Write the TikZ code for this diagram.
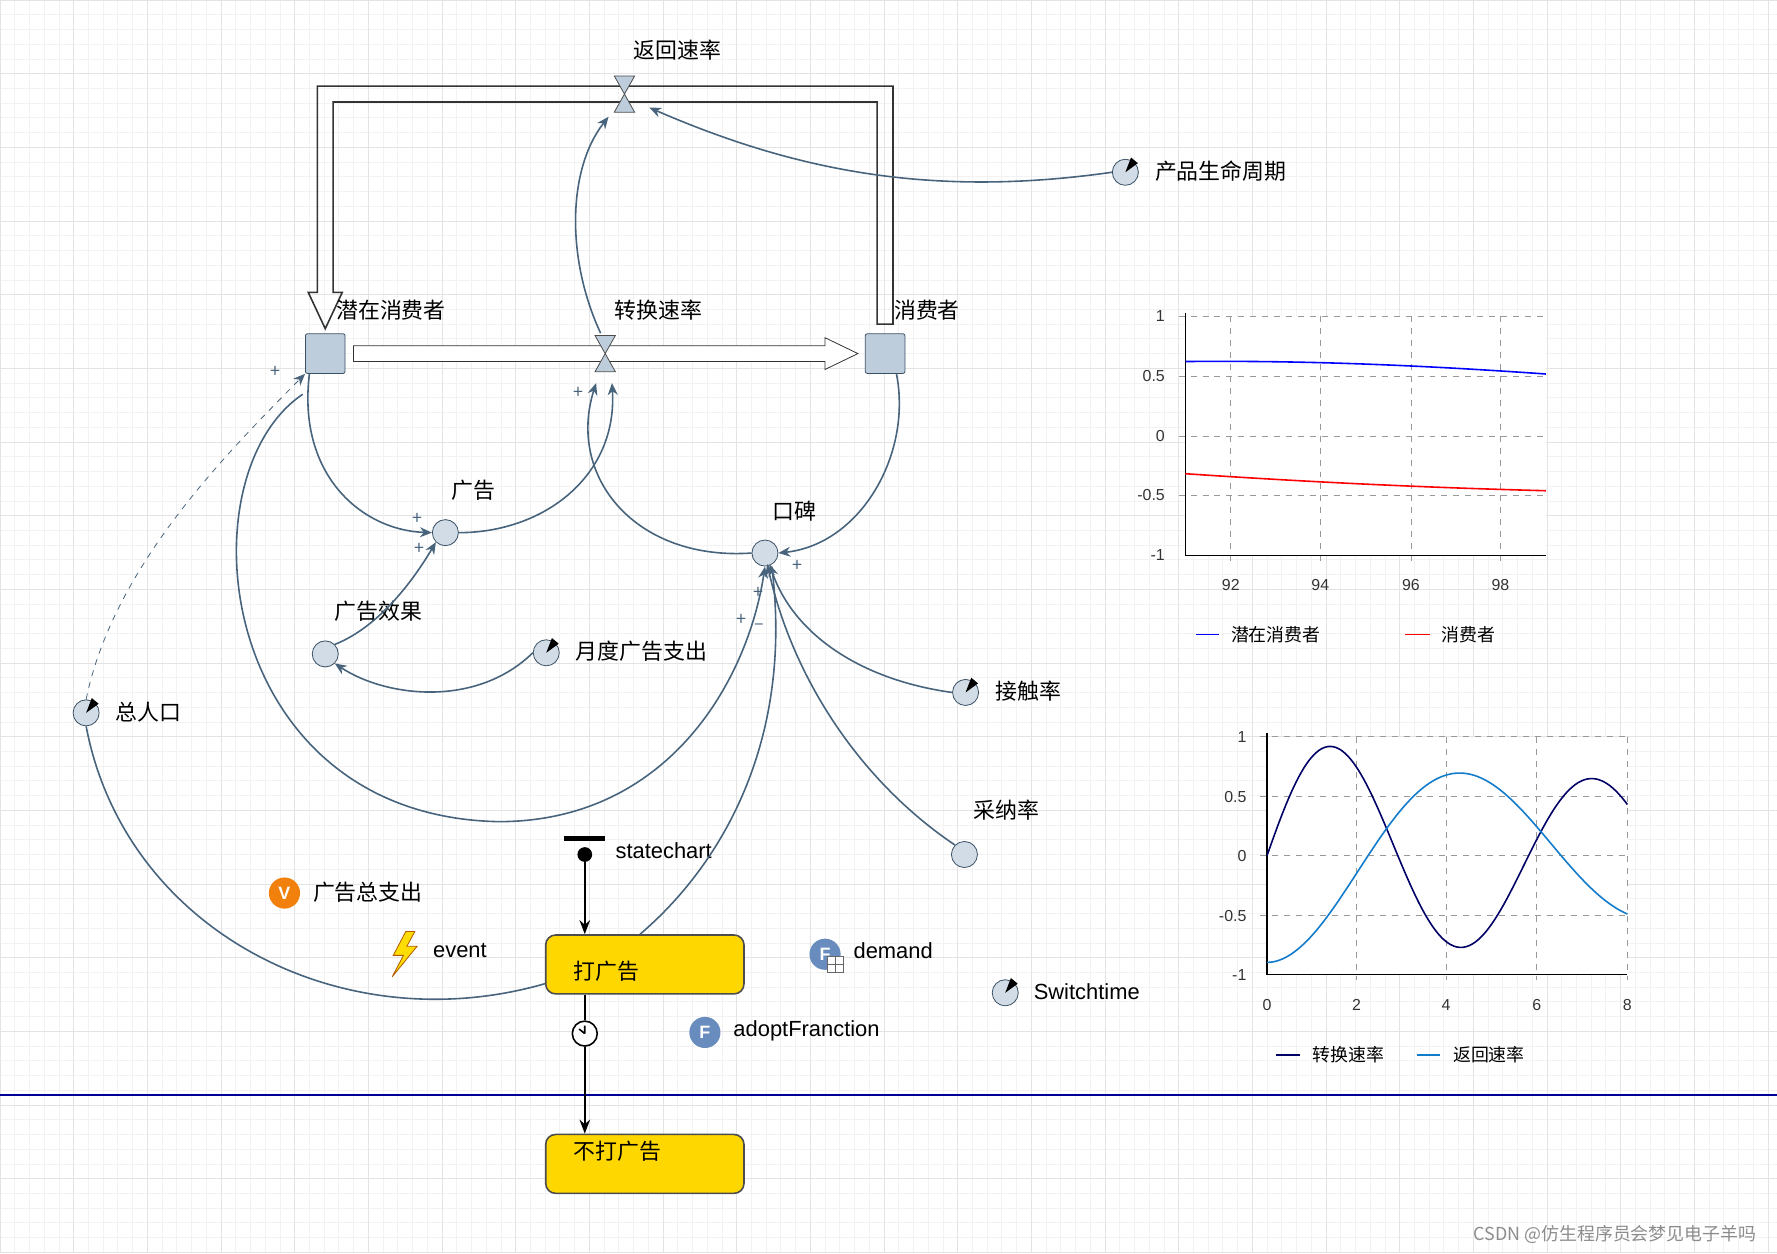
\documentclass[tikz,border=0pt]{standalone}
\usepackage{fontspec}
\setmainfont{Noto Sans CJK SC}
\newfontfamily\lat{Liberation Sans}
\usetikzlibrary{arrows.meta,calc}

\definecolor{linkc}{RGB}{72,100,125}
\definecolor{stockc}{RGB}{190,205,220}
\definecolor{stateyel}{RGB}{255,215,0}
\definecolor{ficon}{RGB}{105,140,190}

\tikzset{
  lbl/.style={font=\fontsize{11}{13}\selectfont},
  stock/.style={draw=linkc!80!black,fill=stockc,minimum size=0.7cm,rounded corners=1pt,inner sep=0pt},
  aux/.style={circle,draw=linkc!80!black,fill=stockc!70,minimum size=0.46cm,inner sep=0pt},
  link/.style={linkc,thick,-{Stealth[length=6pt,width=5pt]}},
  sign/.style={text=linkc,font=\fontsize{9}{9}\selectfont},
  state/.style={draw=black!70,fill=stateyel,rounded corners=5pt,minimum width=3.5cm,minimum height=1.04cm,thick},
  tick/.style={font=\lat\fontsize{8}{9}\selectfont,black!80}
}

% valve (hourglass)
\newcommand{\valvefig}[3]{%
  \coordinate (#1) at (#2,#3);
  \draw[fill=stockc,draw=black!70] (#2-9,#3-16) -- (#2+9,#3-16) -- (#2,#3) -- cycle;
  \draw[fill=stockc,draw=black!70] (#2-9,#3+16) -- (#2+9,#3+16) -- (#2,#3) -- cycle;}
% parameter icon
\newcommand{\paramfig}[3]{%
  \node[aux] (#1) at (#2,#3) {};
  \fill[black] (#2,#3) -- (#2+11,#3-8) -- (#2+5,#3-13) -- cycle;}

\begin{document}
\begin{tikzpicture}[x=0.02cm,y=-0.02cm]
  \useasboundingbox (0,0) rectangle (1568,1106);
  % background grid
  \foreach \gx in {0,13,...,1568} \draw[black!5] (\gx,0) -- (\gx,1106);
  \foreach \gy in {0,13,...,1106} \draw[black!5] (0,\gy) -- (1568,\gy);
  \foreach \gx in {0,65,...,1568} \draw[black!11] (\gx,0) -- (\gx,1106);
  \foreach \gy in {0,65,...,1106} \draw[black!11] (0,\gy) -- (1568,\gy);
  \draw[blue!60!black,thick] (0,966) -- (1568,966);

  % pipes
  \draw[black!80,fill=white] (312,305) -- (728,305) -- (728,298) -- (757,312)
    -- (728,326) -- (728,319) -- (312,319) -- cycle;
  \draw[black!80,thick] (774,286) -- (774,90) -- (294,90) -- (294,258) -- (302,258)
    -- (287,290) -- (272,258) -- (280,258) -- (280,76) -- (788,76) -- (788,286) -- cycle;

  % stocks and valves
  \node[stock] (potential) at (287,312) {};
  \node[stock] (consumer) at (781,312) {};
  \valvefig{convert}{534}{312}
  \valvefig{returnv}{551}{83}

  % variables
  \node[aux] (ad) at (393,470) {};
  \node[aux] (wom) at (675,488) {};
  \node[aux] (adeff) at (287,577) {};
  \node[aux] (adopt) at (851,754) {};
  \paramfig{spend}{482}{576}
  \paramfig{contact}{852}{611}
  \paramfig{totalpop}{76}{629}
  \paramfig{lifecycle}{993}{152}
  \paramfig{switcht}{887}{876}

  % labels
  \node[lbl] at (598,44) {返回速率};
  \node[lbl] at (345,274) {潜在消费者};
  \node[lbl] at (581,274) {转换速率};
  \node[lbl] at (818,274) {消费者};
  \node[lbl] at (418,433) {广告};
  \node[lbl] at (701,451) {口碑};
  \node[lbl] at (334,539) {广告效果};
  \node[lbl,anchor=west] at (502,575) {月度广告支出};
  \node[lbl,anchor=west] at (872,610) {接触率};
  \node[lbl,anchor=west] at (96,628) {总人口};
  \node[lbl,anchor=west] at (1013,151) {产品生命周期};
  \node[lbl] at (888,715) {采纳率};
  \node[lbl,anchor=west,font=\lat\fontsize{11}{13}\selectfont] at (906,875) {Switchtime};

  % links
  \draw[link] ($(potential.south)+(-14,0)$) .. controls (262,420) and (320,468) .. (ad.west);
  \draw[link] (ad.east) .. controls (480,470) and (545,420) .. ($(convert)+(6,26)$);
  \draw[link] (consumer.south) ++(10,0) .. controls (805,400) and (760,480) .. (wom.east);
  \draw[link] (wom.west) .. controls (560,495) and (500,420) .. ($(convert)+(-8,26)$);
  \draw[link] ($(convert)+(-4,-18)$) .. controls (500,230) and (500,150) .. ($(returnv)+(-14,20)$);
  \draw[link] (lifecycle.west) .. controls (820,175) and (700,150) .. ($(returnv)+(22,12)$);
  \draw[link] (adeff.north east) .. controls (330,555) and (360,520) .. (ad.south west);
  \draw[link] (spend.west) .. controls (420,625) and (340,615) .. (adeff.south east);
  \draw[link,dashed,thin] (totalpop.north) .. controls (100,500) and (200,400) .. (potential.south west);
  \draw[link] (potential.south west) ++(-2,18) .. controls (160,420) and (190,720) .. (440,725)
    .. controls (590,725) and (660,600) .. (wom.south);
  \draw[link] (contact.west) .. controls (760,600) and (700,560) .. ($(wom.south)+(4,-2)$);
  \draw[link] (adopt.north west) .. controls (760,690) and (700,600) .. ($(wom.south)+(2,-2)$);

  % polarity signs
  \node[sign] at (243,328) {+};
  \node[sign] at (368,458) {+};
  \node[sign] at (370,484) {+};
  \node[sign] at (510,347) {+};
  \node[sign] at (704,499) {+};
  \node[sign] at (669,523) {+};
  \node[sign] at (654,547) {+};
  \node[sign] at (670,553) {\textendash};

  % statechart
  \node[state] (adon) at (569,851) {};
  \node[lbl,anchor=west] at (500,857) {打广告};
  \node[state] (adoff) at (569,1027) {};
  \node[lbl,anchor=west] at (500,1016) {不打广告};
  \draw[line width=2.5pt] (498,740) -- (534,740);
  \fill (516,754) circle (6.5);
  \coordinate (init) at (516,754);
  \node[lbl,anchor=west,font=\lat\fontsize{11}{13}\selectfont] at (537,751) {statechart};
  \draw[very thick,-{Stealth[length=7pt]}] (init) -- (adon.north -| init);
  \node[circle,draw,thick,fill=white,minimum size=0.44cm,inner sep=0pt] (clock) at (516,912) {};
  \draw[thick] (clock.center) -- ++(0,-7) (clock.center) -- ++(-5,-4);
  \draw[very thick] (adon.south -| clock) -- (clock);
  \draw[very thick,-{Stealth[length=7pt]}] (clock) -- (adoff.north -| clock);
  \draw[linkc,thick] (adon.north west) ++(84,0) .. controls (640,760) and (700,650) .. ($(wom.south)+(6,0)$);
  \draw[linkc,thick] (totalpop.south) .. controls (110,820) and (300,920) .. (adon.west |- 870,868);

  % other elements
  \node[circle,fill=orange!80!brown,text=white,minimum size=0.55cm,inner sep=0pt,font=\lat\bfseries\small] (vtot) at (251,788) {V};
  \node[lbl,anchor=west] at (270,787) {广告总支出};
  \fill[yellow!80!orange,draw=orange!70!black] (358,822) -- (347,843) -- (356,843) -- (346,862) -- (368,835) -- (359,835) -- (366,822) -- cycle;
  \node[lbl,anchor=west,font=\lat\fontsize{11}{13}\selectfont] at (376,839) {event};
  \node[circle,fill=ficon,text=white,minimum size=0.55cm,inner sep=0pt,font=\lat\bfseries\small] (fdem) at (728,842) {F};
  \draw[fill=white,draw=black!60] (730,844) rectangle (744,858);
  \draw[black!60] (730,851) -- (744,851) (737,844) -- (737,858);
  \node[lbl,anchor=west,font=\lat\fontsize{11}{13}\selectfont] at (747,839) {demand};
  \node[circle,fill=ficon,text=white,minimum size=0.55cm,inner sep=0pt,font=\lat\bfseries\small] (fadopt) at (622,911) {F};
  \node[lbl,anchor=west,font=\lat\fontsize{11}{13}\selectfont] at (641,910) {adoptFranction};

  % chart 1
  \fill[white] (1046,279) rectangle (1364,490);
  \foreach \cx in {1086,1165,1245,1324} \draw[black!40,dashed] (\cx,279) -- (\cx,495);
  \foreach \cy in {279,332,385,437} \draw[black!40,dashed] (1040,\cy) -- (1364,\cy);
  \draw[thick] (1046,276) -- (1046,490) -- (1364,490);
  \foreach \cy/\cv in {279/1,332/0.5,385/0,437/-0.5,490/-1}
    \node[anchor=east,tick] at (1034,\cy) {\cv};
  \foreach \cx/\cv in {1086/92,1165/94,1245/96,1324/98}
    \node[tick] at (\cx,516) {\cv};
  \draw[blue,thick] (1046,319) .. controls (1150,318) and (1250,322) .. (1364,330);
  \draw[red,thick] (1046,418) .. controls (1150,425) and (1250,430) .. (1364,433);
  \draw[blue,thick] (1055,560) -- (1076,560);
  \node[anchor=west,font=\small] at (1080,560) {潜在消费者};
  \draw[red,thick] (1240,560) -- (1262,560);
  \node[anchor=west,font=\small] at (1266,560) {消费者};

  % chart 2
  \fill[white] (1118,650) rectangle (1436,860);
  \foreach \cx in {1197,1276,1356,1436} \draw[black!40,dashed] (\cx,650) -- (\cx,865);
  \foreach \cy in {650,703,755,808} \draw[black!40,dashed] (1112,\cy) -- (1436,\cy);
  \draw[thick] (1118,647) -- (1118,860) -- (1436,860);
  \foreach \cy/\cv in {650/1,703/0.5,755/0,808/-0.5,860/-1}
    \node[anchor=east,tick] at (1106,\cy) {\cv};
  \foreach \cx/\cv in {1118/0,1197/2,1276/4,1356/6,1436/8}
    \node[tick] at (\cx,887) {\cv};
  \draw[blue!40!black,thick,domain=0:8,samples=60,smooth]
    plot ({1118+39.75*\x},{755-105*sin(62*\x)*exp(-0.06*\x)});
  \draw[cyan!60!blue,thick,domain=0:8,samples=60,smooth]
    plot ({1118+39.75*\x},{755+105*0.9*cos(42*(\x-0.1))*exp(-0.06*\x)});
  \draw[blue!40!black,thick] (1126,931) -- (1147,931);
  \node[anchor=west,font=\small] at (1152,931) {转换速率};
  \draw[cyan!60!blue,thick] (1250,931) -- (1271,931);
  \node[anchor=west,font=\small] at (1276,931) {返回速率};

  \node[anchor=east,black!45,font=\fontsize{9}{11}\selectfont] at (1556,1089) {CSDN @仿生程序员会梦见电子羊吗};
\end{tikzpicture}
\end{document}
